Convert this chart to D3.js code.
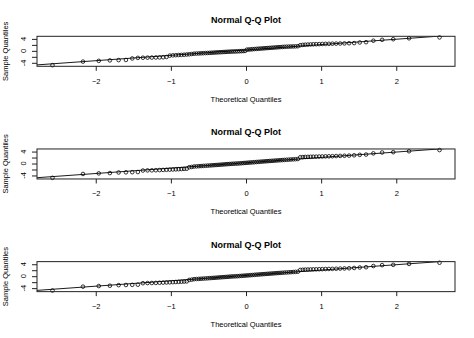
<!DOCTYPE html>
<html><head><meta charset="utf-8">
<script src="https://cdn.jsdelivr.net/npm/d3@7"></script>
<style>
body{margin:0;background:#fff}
svg{display:block}
text{font-family:"Liberation Sans",Arial,Helvetica,sans-serif;fill:#000}
</style>
</head><body>
<svg id="c" width="474" height="338"></svg>
<script>
const titles = ["Normal Q-Q Plot", "Normal Q-Q Plot", "Normal Q-Q Plot"];
const xLabel = "Theoretical Quantiles";
const yLabel = "Sample Quantiles";
const xTicks = [-2, -1, 0, 1, 2];
const yTicks = [-4, -2, 0, 2, 4];
const yTickLabels = [-4, 0, 4];

// sorted sample quantiles (n = 100)
const sample1 = [
  -4.8, -3.6, -3.35, -3.2, -3.1, -3.05, -2.55, -2.35, -2.3, -2.28,
  -2.25, -2.22, -2.2, -2.15, -2.05, -1.6, -1.5, -1.45, -1.4, -1.35,
  -1.3, -1.22, -1.15, -1.05, -0.95, -0.9, -0.86, -0.82, -0.78, -0.74,
  -0.7, -0.66, -0.62, -0.58, -0.54, -0.5, -0.46, -0.42, -0.38, -0.34,
  -0.3, -0.27, -0.24, -0.21, -0.18, -0.15, -0.12, -0.09, -0.06, -0.03,
  0.4, 0.45, 0.5, 0.55, 0.6, 0.65, 0.7, 0.75, 0.8, 0.85,
  0.9, 0.95, 1.0, 1.05, 1.1, 1.15, 1.2, 1.25, 1.3, 1.35,
  1.38, 1.42, 1.45, 1.48, 1.5, 1.55, 1.9, 2.0, 2.05, 2.1,
  2.15, 2.2, 2.22, 2.25, 2.3, 2.33, 2.36, 2.4, 2.43, 2.46,
  2.5, 2.55, 2.6, 2.8, 2.9, 3.4, 3.7, 3.9, 4.2, 4.5
];
const sample2 = [
  -4.8, -3.5, -3.3, -3.2, -3.0, -2.95, -2.9, -2.85, -2.35, -2.3,
  -2.28, -2.25, -2.2, -2.15, -2.1, -2.05, -2.0, -1.95, -1.9, -1.85,
  -1.8, -1.75, -1.25, -1.15, -1.0, -0.95, -0.9, -0.85, -0.8, -0.75,
  -0.7, -0.65, -0.6, -0.55, -0.5, -0.45, -0.4, -0.35, -0.3, -0.25,
  -0.2, -0.15, -0.1, -0.07, -0.03, 0.0, 0.05, 0.1, 0.15, 0.2,
  0.25, 0.3, 0.35, 0.4, 0.45, 0.5, 0.55, 0.6, 0.65, 0.7,
  0.75, 0.8, 0.85, 0.9, 0.95, 1.0, 1.05, 1.1, 1.15, 1.2,
  1.25, 1.3, 1.35, 1.4, 1.45, 1.5, 2.1, 2.15, 2.2, 2.22,
  2.25, 2.28, 2.3, 2.33, 2.36, 2.4, 2.42, 2.45, 2.5, 2.55,
  2.6, 2.65, 2.75, 2.9, 3.0, 3.4, 3.7, 3.8, 4.1, 4.5
];
const sample3 = [
  -4.8, -3.5, -3.3, -3.2, -3.0, -2.95, -2.9, -2.85, -2.35, -2.3,
  -2.28, -2.25, -2.2, -2.15, -2.1, -2.05, -2.0, -1.95, -1.9, -1.85,
  -1.8, -1.75, -1.25, -1.15, -1.0, -0.95, -0.9, -0.85, -0.8, -0.75,
  -0.7, -0.65, -0.6, -0.55, -0.5, -0.45, -0.4, -0.35, -0.3, -0.25,
  -0.2, -0.15, -0.1, -0.07, -0.03, 0.0, 0.05, 0.1, 0.15, 0.2,
  0.25, 0.3, 0.35, 0.4, 0.45, 0.5, 0.55, 0.6, 0.65, 0.7,
  0.75, 0.8, 0.85, 0.9, 0.95, 1.0, 1.05, 1.1, 1.15, 1.2,
  1.25, 1.3, 1.35, 1.4, 1.45, 1.5, 2.1, 2.15, 2.2, 2.22,
  2.25, 2.28, 2.3, 2.33, 2.36, 2.4, 2.42, 2.45, 2.5, 2.55,
  2.6, 2.65, 2.75, 2.9, 3.0, 3.4, 3.7, 3.8, 4.1, 4.5
];
const samples = [sample1, sample2, sample3];

// inverse standard normal CDF (Acklam), used for theoretical quantiles as in qqnorm
function qnorm(p){
  const a=[-3.969683028665376e+01,2.209460984245205e+02,-2.759285104469687e+02,1.383577518672690e+02,-3.066479806614716e+01,2.506628277459239e+00];
  const b=[-5.447609879822406e+01,1.615858368580409e+02,-1.556989798598866e+02,6.680131188771972e+01,-1.328068155288572e+01];
  const c=[-7.784894002430293e-03,-3.223964580411365e-01,-2.400758277161838e+00,-2.549732539343734e+00,4.374664141464968e+00,2.938163982698783e+00];
  const d=[7.784695709041462e-03,3.224671290700398e-01,2.445134137142996e+00,3.754408661907416e+00];
  const pl=0.02425, ph=1-pl; let q, r;
  if(p<pl){q=Math.sqrt(-2*Math.log(p));return (((((c[0]*q+c[1])*q+c[2])*q+c[3])*q+c[4])*q+c[5])/((((d[0]*q+d[1])*q+d[2])*q+d[3])*q+1);}
  if(p<=ph){q=p-0.5;r=q*q;return (((((a[0]*r+a[1])*r+a[2])*r+a[3])*r+a[4])*r+a[5])*q/(((((b[0]*r+b[1])*r+b[2])*r+b[3])*r+b[4])*r+1);}
  q=Math.sqrt(-2*Math.log(1-p));return -(((((c[0]*q+c[1])*q+c[2])*q+c[3])*q+c[4])*q+c[5])/((((d[0]*q+d[1])*q+d[2])*q+d[3])*q+1);
}
function ext(lo, hi){ const d=(hi-lo)*0.04; return [lo-d, hi+d]; }

const svg = d3.select("#c");
const W = 474, H = 338, panelH = H/3;
const bx0 = 37, bx1 = 455;

samples.forEach((ys, k) => {
  const n = ys.length;
  const xs = d3.range(n).map(i => qnorm((i + 0.5) / n));
  const pts = ys.map((y, i) => ({x: xs[i], y}));
  const top = k * panelH;
  const by0 = top + 36.3, by1 = top + 66.3;
  const x = d3.scaleLinear().domain(ext(d3.min(xs), d3.max(xs))).range([bx0, bx1]);
  const y = d3.scaleLinear().domain(ext(d3.min(ys), d3.max(ys))).range([by1, by0]);
  const g = svg.append("g");

  // qqline through quartiles
  const sorted = ys.slice().sort(d3.ascending);
  const q1 = d3.quantileSorted(sorted, 0.25), q3 = d3.quantileSorted(sorted, 0.75);
  const t1 = qnorm(0.25), t3 = qnorm(0.75);
  const slope = (q3 - q1) / (t3 - t1), intercept = q1 - slope * t1;
  const cid = "clip" + k;
  g.append("clipPath").attr("id", cid).append("rect")
    .attr("x", bx0).attr("y", by0).attr("width", bx1 - bx0).attr("height", by1 - by0);
  const xd = x.domain();
  g.append("path")
    .datum(xd.map(v => ({x: v, y: intercept + slope * v})))
    .attr("clip-path", `url(#${cid})`)
    .attr("fill", "none").attr("stroke", "#000").attr("stroke-width", 0.9)
    .attr("d", d3.line().x(d => x(d.x)).y(d => y(d.y)));

  // points
  g.append("g").selectAll("circle").data(pts).join("circle")
    .attr("cx", d => x(d.x)).attr("cy", d => y(d.y)).attr("r", 1.8)
    .attr("fill", "none").attr("stroke", "#000").attr("stroke-width", 0.8);

  // box
  g.append("rect").attr("x", bx0).attr("y", by0).attr("width", bx1 - bx0).attr("height", by1 - by0)
    .attr("fill", "none").attr("stroke", "#222").attr("stroke-width", 1);

  // x axis
  const xa = g.append("g").attr("transform", `translate(0,${by1})`)
    .call(d3.axisBottom(x).tickValues(xTicks).tickSize(4.5).tickPadding(4).tickFormat(d3.format("d")));
  xa.select(".domain").remove();
  xa.selectAll("text").attr("font-size", 7.5).attr("dy", null).attr("y", 17.5)
    .style("font-family", '"Liberation Sans",Arial,sans-serif');
  xa.selectAll("line").attr("stroke", "#222");

  // y axis
  const ya = g.append("g").attr("transform", `translate(${bx0},0)`)
    .call(d3.axisLeft(y).tickValues(yTicks).tickSize(5).tickFormat(""));
  ya.select(".domain").remove();
  ya.selectAll("line").attr("stroke", "#222");
  g.append("g").selectAll("text").data(yTickLabels).join("text")
    .attr("transform", d => `translate(25.5,${y(d)}) rotate(-90)`)
    .attr("text-anchor", "middle").attr("font-size", 7.5)
    .text(d => d3.format("d")(d).replace("\u2212", "-"));

  // titles
  g.append("text").attr("x", (bx0 + bx1) / 2).attr("y", top + 22.5)
    .attr("text-anchor", "middle").attr("font-size", 9).attr("font-weight", "bold").text(titles[k]);
  g.append("text").attr("x", (bx0 + bx1) / 2).attr("y", top + 101.5)
    .attr("text-anchor", "middle").attr("font-size", 7.5).text(xLabel);
  g.append("text").attr("transform", `translate(8.3,${(by0 + by1) / 2}) rotate(-90)`)
    .attr("text-anchor", "middle").attr("font-size", 7.5).text(yLabel);
});
</script>
</body></html>
